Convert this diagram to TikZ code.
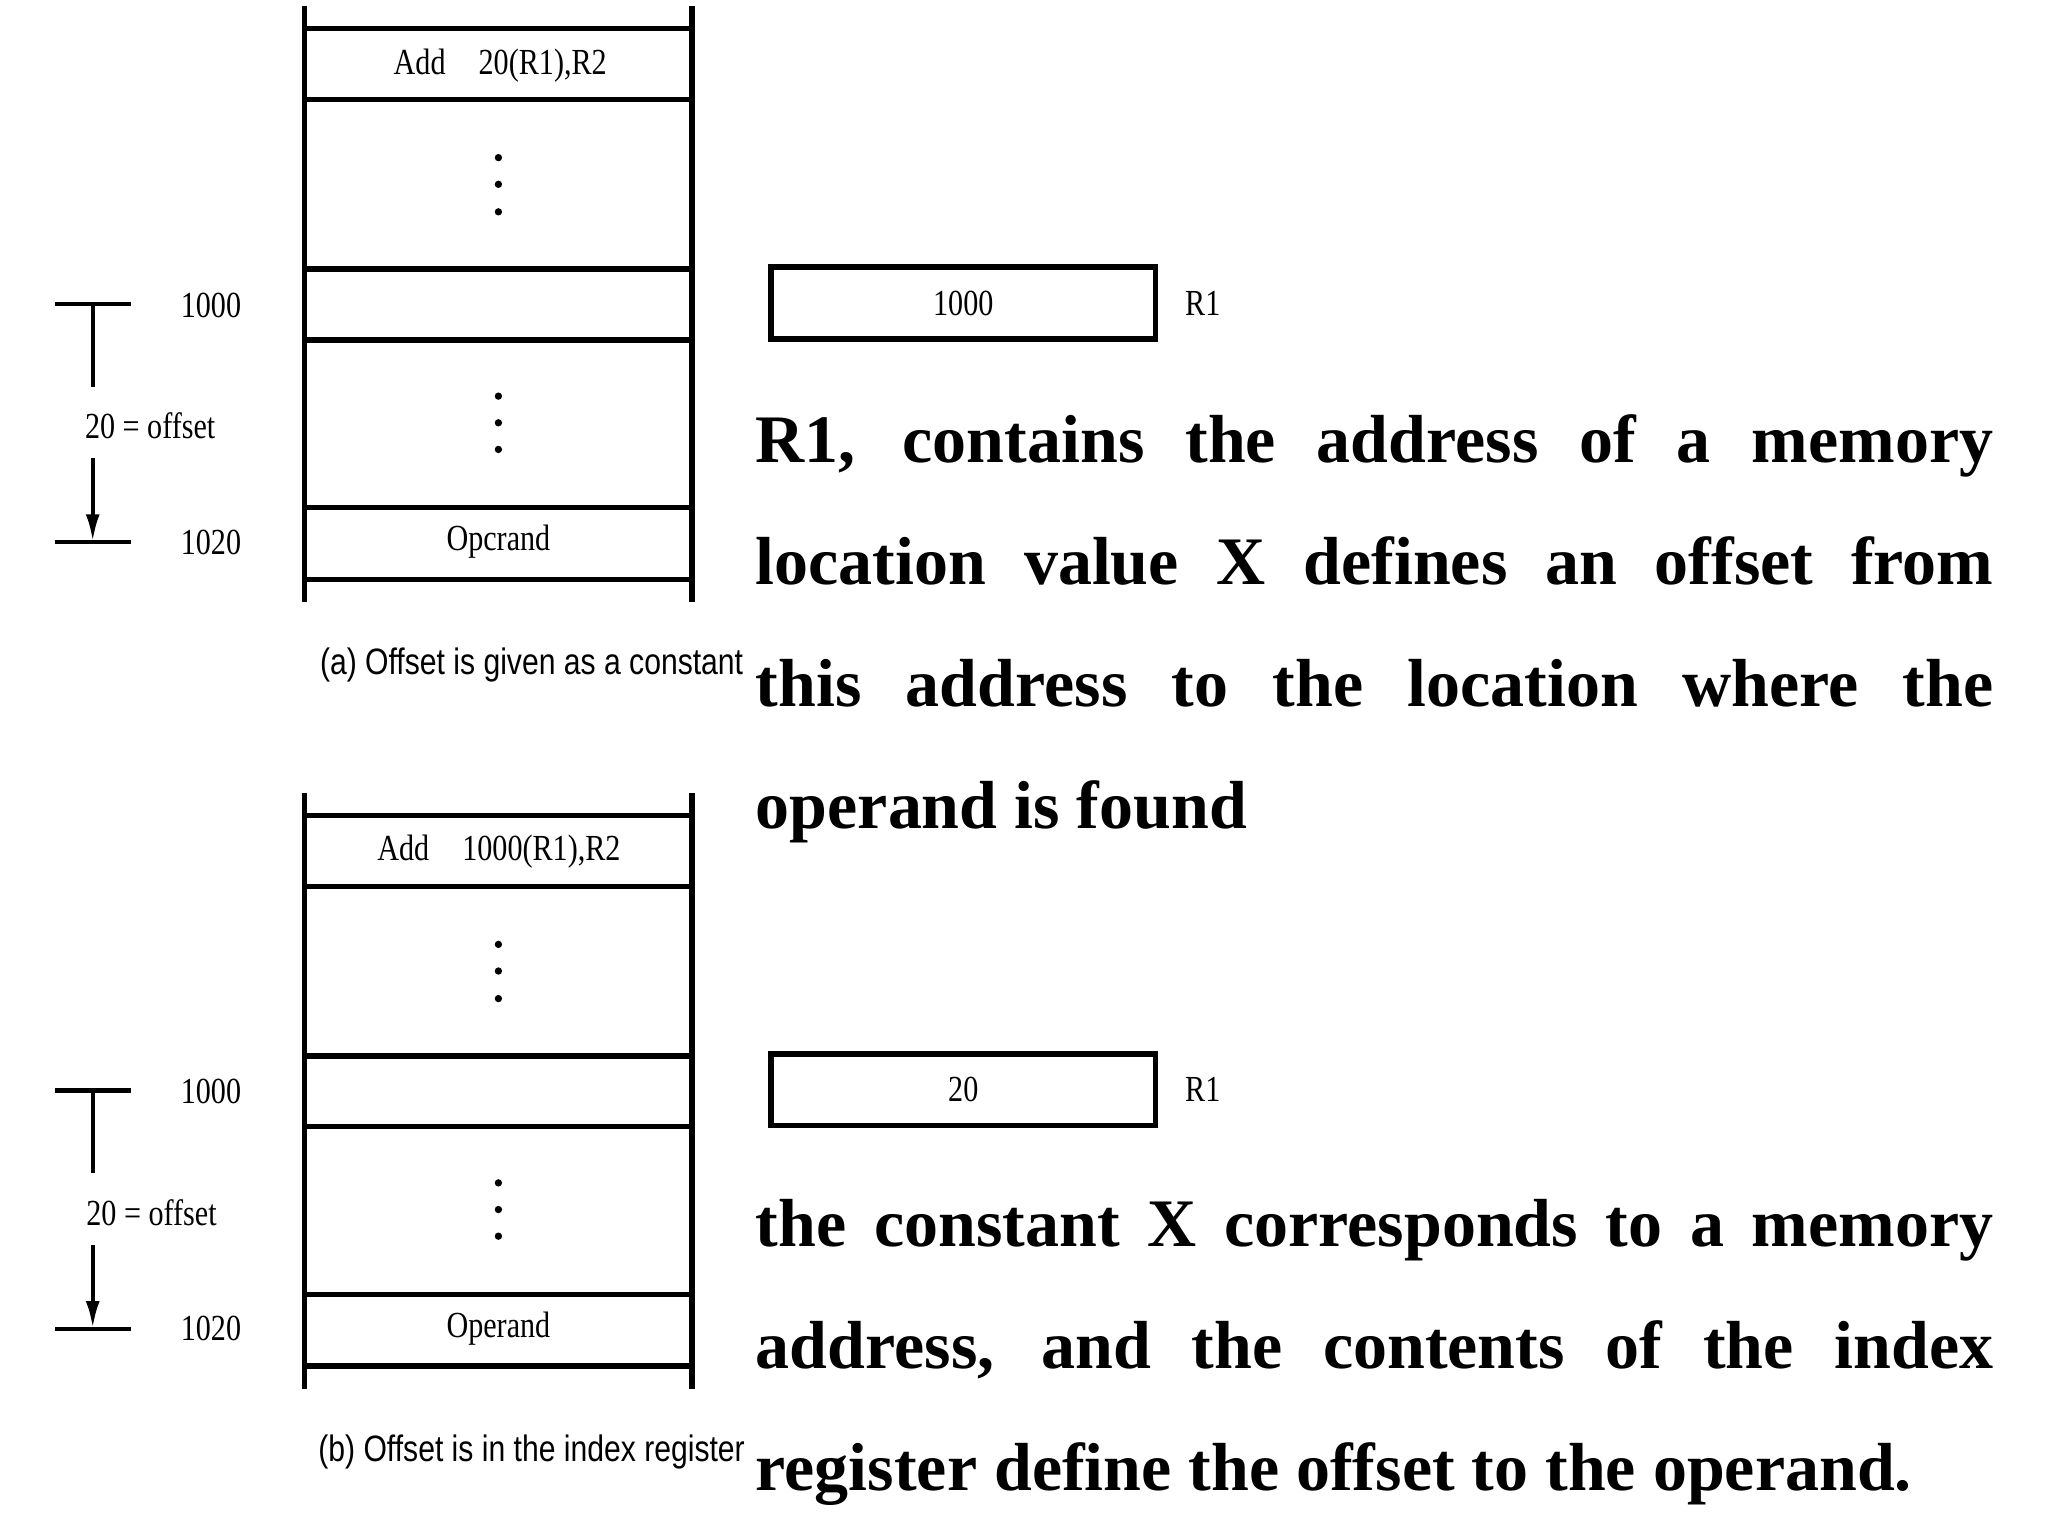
\documentclass[tikz,border=0pt]{standalone}
\usepackage{fontspec}
\setmainfont{Liberation Serif}
\newfontfamily\labfont[FakeStretch=0.82]{Liberation Serif}
\newfontfamily\capfont[FakeStretch=0.82]{Liberation Sans}
\usetikzlibrary{positioning,arrows.meta}
\tikzset{
  lab/.style={font=\labfont\fontsize{8}{9.6}\selectfont, inner sep=0mm
  },
  capt/.style={font=\capfont\fontsize{8}{9.6}\selectfont, inner sep=0mm
  },
  wall/.style={line width=1.2pt},
  tick/.style={line width=0.9pt},
  regbox/.style={
    draw, rectangle, minimum width=2.94cm, minimum height=0.55cm, inner sep=0mm,
    line width=1.2pt, font=\labfont\fontsize{8}{9.6}\selectfont
  },
  para/.style={
    font=\bfseries\fontsize{14.8}{26.6}\selectfont, text width=9.47cm,
    align=justify, inner sep=0mm, anchor=base west
  }
}

\begin{document}
\begin{tikzpicture}[x=0.01cm, y=-0.01cm]
  \path[fill=white] (0,0) rectangle (1568,1176);
  \begin{scope}
   \draw[wall] (233,4.6) -- (233,461);
   \draw[wall] (530,4.6) -- (530,461);
   \foreach \y in {22,76.2,206,260.3,388.7,443.6}
     \draw[wall] (233,\y) -- (530,\y);
   \foreach \y in {120.7,141.1,162.2,303.3,323.7,344.1}
     \fill (381.6,\y) circle[radius=0.8pt];

   \node[lab] (insta) at (383,50) {Add\hspace{0.9em}20(R1),R2};
   \node[lab] (opa) at (381.6,415) {Opcrand};
   \node[lab] (ada) at (161.5,233.5) {1000};
   \node[lab] (bda) at (161.5,415) {1020};
   \node[capt] (capa) at (407,509) {(a) Offset is given as a constant};

   \coordinate (ta) at (71,232.6);
   \coordinate (ba) at (71,415);
   \coordinate (upa) at (71,296);
   \coordinate (lowa) at (71,351);
   \node[lab] (offa) at (115,326) {20 = offset};
   \draw[tick] ([xshift=-0.29cm]ta) -- ([xshift=0.29cm]ta);
   \draw[tick] ([xshift=-0.29cm]ba) -- ([xshift=0.29cm]ba);
   \draw[tick] (ta) -- (upa);
   \draw[tick,-{Latex[length=6pt,width=3pt]}] (lowa) -- (ba);

   \node[regbox, label={[lab,label distance=2mm]right:R1}] (rega) at (737.5,232) {1000};

   \node[para] (texta) at (578,354) {R1, contains the address of a memory\linebreak
     location value X defines an offset from\linebreak
     this address to the location where the\linebreak
     operand is found};
  \end{scope}
  \begin{scope}[yshift=-6.02cm]
   \draw[wall] (233,4.6) -- (233,461);
   \draw[wall] (530,4.6) -- (530,461);
   \foreach \y in {22,76.2,206,260.3,388.7,443.6}
     \draw[wall] (233,\y) -- (530,\y);
   \foreach \y in {120.7,141.1,162.2,303.3,323.7,344.1}
     \fill (381.6,\y) circle[radius=0.8pt];

   \node[lab] (instb) at (382,50) {Add\hspace{0.9em}1000(R1),R2};
   \node[lab] (opb) at (381.6,415) {Operand};
   \node[lab] (adb) at (161.5,233.5) {1000};
   \node[lab] (bdb) at (161.5,415) {1020};
   \node[capt] (capb) at (407,509) {(b) Offset is in the index register};

   \coordinate (tb) at (71,232.6);
   \coordinate (bb) at (71,415);
   \coordinate (upb) at (71,296);
   \coordinate (lowb) at (71,351);
   \node[lab] (offb) at (116,326) {20 = offset};
   \draw[tick] ([xshift=-0.29cm]tb) -- ([xshift=0.29cm]tb);
   \draw[tick] ([xshift=-0.29cm]bb) -- ([xshift=0.29cm]bb);
   \draw[tick] (tb) -- (upb);
   \draw[tick,-{Latex[length=6pt,width=3pt]}] (lowb) -- (bb);

   \node[regbox, label={[lab,label distance=2mm]right:R1}] (regb) at (737.5,232) {20};

   \node[para] (textb) at (578,352) {the constant X corresponds to a memory\linebreak
     address, and the contents of the index\linebreak
     register define the offset to the operand.};
  \end{scope}
\end{tikzpicture}
\end{document}
